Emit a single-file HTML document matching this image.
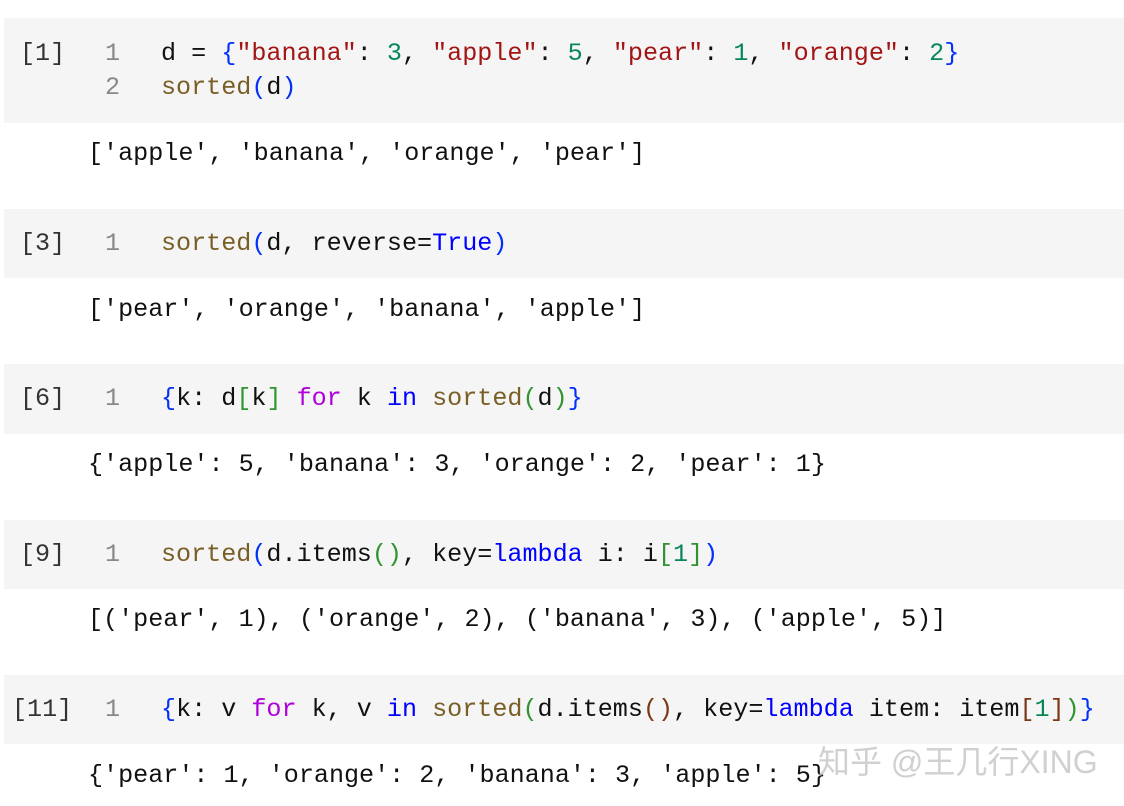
<!DOCTYPE html>
<html><head><style>
body{margin:0;width:1124px;height:806px;background:#fff;position:relative;overflow:hidden;font-family:"Liberation Mono",monospace;font-size:25.1px;color:#111}
.c{position:absolute;left:4px;width:1120px;background:#f5f5f5}
.t{position:absolute;white-space:pre;line-height:34px}
.p{color:#333}.n{color:#888}
.s{color:#a31515}.d{color:#098658}.b{color:#0431fa}.g{color:#319331}.r{color:#7b3814}
.f{color:#795e26}.k{color:#0000ff}.q{color:#af00db}
.w{position:absolute;left:818px;top:737px;font-family:"Liberation Sans","Noto Sans CJK SC",sans-serif;font-size:32px;color:rgba(200,200,200,0.85);white-space:pre}
</style></head><body>
<div class="c" style="top:18px;height:105px"></div>
<div class="c" style="top:209px;height:69px"></div>
<div class="c" style="top:364px;height:70px"></div>
<div class="c" style="top:520px;height:69px"></div>
<div class="c" style="top:675px;height:69px"></div>

<div class="t p" style="left:20px;top:37px">[1]</div>
<div class="t n" style="left:105px;top:37px">1
2</div>
<div class="t" style="left:161px;top:37px">d = <span class="b">{</span><span class="s">"banana"</span>: <span class="d">3</span>, <span class="s">"apple"</span>: <span class="d">5</span>, <span class="s">"pear"</span>: <span class="d">1</span>, <span class="s">"orange"</span>: <span class="d">2</span><span class="b">}</span>
<span class="f">sorted</span><span class="b">(</span>d<span class="b">)</span></div>
<div class="t" style="left:88px;top:137px">['apple', 'banana', 'orange', 'pear']</div>

<div class="t p" style="left:20px;top:227px">[3]</div>
<div class="t n" style="left:105px;top:227px">1</div>
<div class="t" style="left:161px;top:227px"><span class="f">sorted</span><span class="b">(</span>d, reverse=<span class="k">True</span><span class="b">)</span></div>
<div class="t" style="left:88px;top:293px">['pear', 'orange', 'banana', 'apple']</div>

<div class="t p" style="left:20px;top:382px">[6]</div>
<div class="t n" style="left:105px;top:382px">1</div>
<div class="t" style="left:161px;top:382px"><span class="b">{</span>k: d<span class="g">[</span>k<span class="g">]</span> <span class="q">for</span> k <span class="k">in</span> <span class="f">sorted</span><span class="g">(</span>d<span class="g">)</span><span class="b">}</span></div>
<div class="t" style="left:88px;top:448px">{'apple': 5, 'banana': 3, 'orange': 2, 'pear': 1}</div>

<div class="t p" style="left:20px;top:538px">[9]</div>
<div class="t n" style="left:105px;top:538px">1</div>
<div class="t" style="left:161px;top:538px"><span class="f">sorted</span><span class="b">(</span>d.items<span class="g">()</span>, key=<span class="k">lambda</span> i: i<span class="g">[</span><span class="d">1</span><span class="g">]</span><span class="b">)</span></div>
<div class="t" style="left:88px;top:603px">[('pear', 1), ('orange', 2), ('banana', 3), ('apple', 5)]</div>

<div class="t p" style="left:12px;top:693px">[11]</div>
<div class="t n" style="left:105px;top:693px">1</div>
<div class="t" style="left:161px;top:693px"><span class="b">{</span>k: v <span class="q">for</span> k, v <span class="k">in</span> <span class="f">sorted</span><span class="g">(</span>d.items<span class="r">()</span>, key=<span class="k">lambda</span> item: item<span class="r">[</span><span class="d">1</span><span class="r">]</span><span class="g">)</span><span class="b">}</span></div>
<div class="t" style="left:88px;top:759px">{'pear': 1, 'orange': 2, 'banana': 3, 'apple': 5}</div>
<div class="w">知乎 @王几行XING</div>
</body></html>
